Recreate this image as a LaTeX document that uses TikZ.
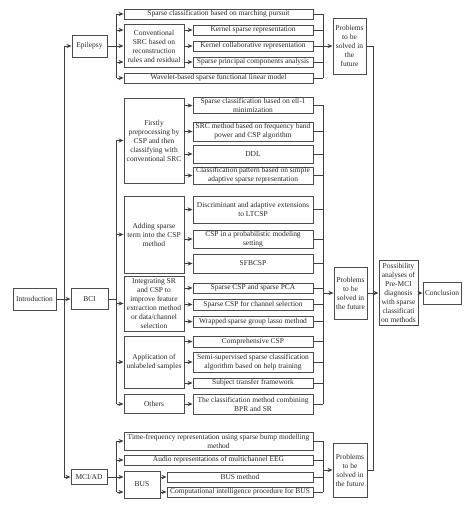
\documentclass[tikz,border=0pt]{standalone}
\usepackage{fontspec}
\setmainfont{Liberation Serif}
\usetikzlibrary{arrows.meta}
\newcommand{\boxfont}{\fontsize{5.6}{6.75}\selectfont}
\tikzset{every picture/.style={line width=0.7pt}}
\tikzset{
  blk/.style 2 args={draw=black!70, text=black!85, align=center, inner sep=0.4pt,
    font=\boxfont, minimum width=#1*0.75pt, minimum height=#2*0.75pt},
  link/.style={draw=black!75},
  arr/.style={link, -{Stealth[length=3.8pt,width=3.2pt]}}
}

\begin{document}
\begin{tikzpicture}[x=0.75pt,y=0.75pt,yscale=-1,xscale=1]
\useasboundingbox (0,0) rectangle (474,509);

% Introduction
\node[blk={43}{22}] (intro) at (34.5,299) {Introduction};

% Epilepsy
\node[blk={35}{22}] (epi) at (89.5,46) {Epilepsy};
\node[blk={189}{10}] (e1) at (218.5,14) {Sparse classification based on marching pursuit};
\node[blk={60}{43}] (conv) at (154,46) {Conventional\\SRC based on\\reconstruction\\rules and residual};
\node[blk={120}{10}] (e21) at (253,30) {Kernel sparse representation};
\node[blk={120}{10}] (e22) at (253,46) {Kernel collaborative representation};
\node[blk={120}{10}] (e23) at (253,62) {Sparse principal components analysis};
\node[blk={189}{10}] (e3) at (218.5,78) {Wavelet-based sparse functional linear model};
\node[blk={33}{56}] (p1) at (349.5,46) {Problems\\to be\\solved in\\the\\future};

% BCI
\node[blk={37}{21}] (bci) at (89.5,299) {BCI};
\node[blk={60}{85}] (first) at (154,140.5) {Firstly\\preprocessing by\\CSP and then\\classifying with\\conventional SRC};
\node[blk={120}{15}] (b11) at (253,105.5) {Sparse classification based on ell-1\\minimization};
\node[blk={120}{19}] (b12) at (253,131.5) {SRC method based on frequency band\\power and CSP algorithm};
\node[blk={120}{18}] (b13) at (253,154) {DDL};
\node[blk={120}{17}] (b14) at (253,175.5) {Classification pattern based on simple\\adaptive sparse representation};
\node[blk={60}{77}] (add) at (154,234.5) {Adding sparse\\term into the CSP\\method};
\node[blk={120}{27}] (b21) at (253,209.5) {Discriminant and adaptive extensions\\to LTCSP};
\node[blk={120}{18}] (b22) at (253,239) {CSP in a probabilistic modeling\\setting};
\node[blk={120}{19}] (b23) at (253,263.5) {SFBCSP};
\node[blk={60}{55}] (integ) at (154,303.5) {Integrating SR\\and CSP to\\improve feature\\extraction method\\or data/channel\\selection};
\node[blk={120}{10}] (b31) at (253,288) {Sparse CSP and sparse PCA};
\node[blk={120}{11}] (b32) at (253,304.5) {Sparse CSP for channel selection};
\node[blk={120}{11}] (b33) at (253,321.5) {Wrapped sparse group lasso method};
\node[blk={60}{52}] (appl) at (154,362) {Application of\\unlabeled samples};
\node[blk={120}{11}] (b41) at (253,341.5) {Comprehensive CSP};
\node[blk={120}{20}] (b42) at (253,362) {Semi-supervised sparse classification\\algorithm based on help training};
\node[blk={120}{10}] (b43) at (253,383) {Subject transfer framework};
\node[blk={60}{19}] (oth) at (154,404) {Others};
\node[blk={120}{20}] (b51) at (253,404) {The classification method combining\\BPR and SR};
\node[blk={33}{52}] (p2) at (350.5,293) {Problems\\to be\\solved in\\the future};

% MCI/AD
\node[blk={36}{15}] (mci) at (89,477) {MCI/AD};
\node[blk={189}{18}] (m1) at (218.5,441) {Time-frequency representation using sparse bump modelling\\method};
\node[blk={189}{10}] (m2) at (218.5,460) {Audio representations of multichannel EEG};
\node[blk={36}{27}] (bus) at (142,484.5) {BUS};
\node[blk={146}{10}] (m31) at (240,477) {BUS method};
\node[blk={146}{10}] (m32) at (240,492) {Computational intelligence procedure for BUS};
\node[blk={34}{54}] (p3) at (350,470) {Problems\\to be\\solved in\\the future};

% Outcome
\node[blk={39}{65}] (poss) at (398.5,293) {Possibility\\analyses of\\Pre-MCI\\diagnosis\\with sparse\\classificati\\on methods};
\node[blk={38}{22}] (conc) at (442,293) {Conclusion};

% bus lines
\coordinate (lbus) at (64,299);
\coordinate (ebus) at (116.5,46);
\coordinate (bbus) at (116.5,299);
\coordinate (mbus) at (116.5,477);
\coordinate (rb) at (323,0);
\coordinate (fbus) at (373,293);

% Introduction to fields
\draw[link] (intro) -- (lbus);
\draw[link] (lbus |- epi) -- (lbus |- mci);
\draw[arr] (lbus |- epi) -- (epi);
\draw[arr] (lbus) -- (bci);
\draw[arr] (lbus |- mci) -- (mci);

% Epilepsy branch
\draw[link] (epi) -- (ebus);
\draw[link] (ebus |- e1) -- (ebus |- e3);
\foreach \n in {e1,e3} \draw[arr] (ebus |- \n) -- (\n);
\foreach \n in {e21,e22,e23} {
  \draw[arr] (ebus |- \n) -- (conv.west |- \n);
  \draw[arr] (conv.east |- \n) -- (\n);
}
\foreach \n in {e1,e21,e22,e23,e3} \draw[link] (\n.east) -- (rb |- \n.east);
\draw[link] (rb |- e1.east) -- (rb |- e3.east);
\draw[arr] (rb |- p1) -- (p1);

% BCI branch
\draw[link] (bci) -- (bbus);
\draw[link] (bbus |- first) -- (bbus |- oth);
\foreach \n in {first,add,integ,appl,oth} \draw[arr] (bbus |- \n) -- (\n);
\foreach \p/\n in {first/b11,first/b12,first/b13,first/b14,add/b21,add/b22,add/b23,
    integ/b31,integ/b32,integ/b33,appl/b41,appl/b42,appl/b43,oth/b51}
  \draw[arr] (\p.east |- \n) -- (\n);
\foreach \n in {b11,b12,b13,b14,b21,b22,b23,b31,b32,b33,b41,b42,b43,b51}
  \draw[link] (\n.east) -- (rb |- \n.east);
\draw[link] (rb |- b11.east) -- (rb |- b51.east);
\draw[arr] (rb |- p2) -- (p2);

% MCI/AD branch
\draw[link] (mci) -- (mbus);
\draw[link] (mbus |- m1) -- (mbus |- m32);
\foreach \n in {m1,m2} \draw[arr] (mbus |- \n) -- (\n);
\foreach \n in {m31,m32} {
  \draw[arr] (mbus |- \n) -- (bus.west |- \n);
  \draw[arr] (bus.east |- \n) -- (\n);
}
\foreach \n in {m1,m2,m31,m32} \draw[link] (\n.east) -- (rb |- \n.east);
\draw[link] (rb |- m1.east) -- (rb |- m32.east);
\draw[arr] (rb |- p3) -- (p3);

% problems to outcome
\draw[link] (p1) -- (fbus |- p1) -- (fbus |- p3) -- (p3);
\draw[link] (p2) -- (fbus);
\draw[arr] (fbus) -- (poss);
\draw[arr] (poss) -- (conc);

\end{tikzpicture}
\end{document}
